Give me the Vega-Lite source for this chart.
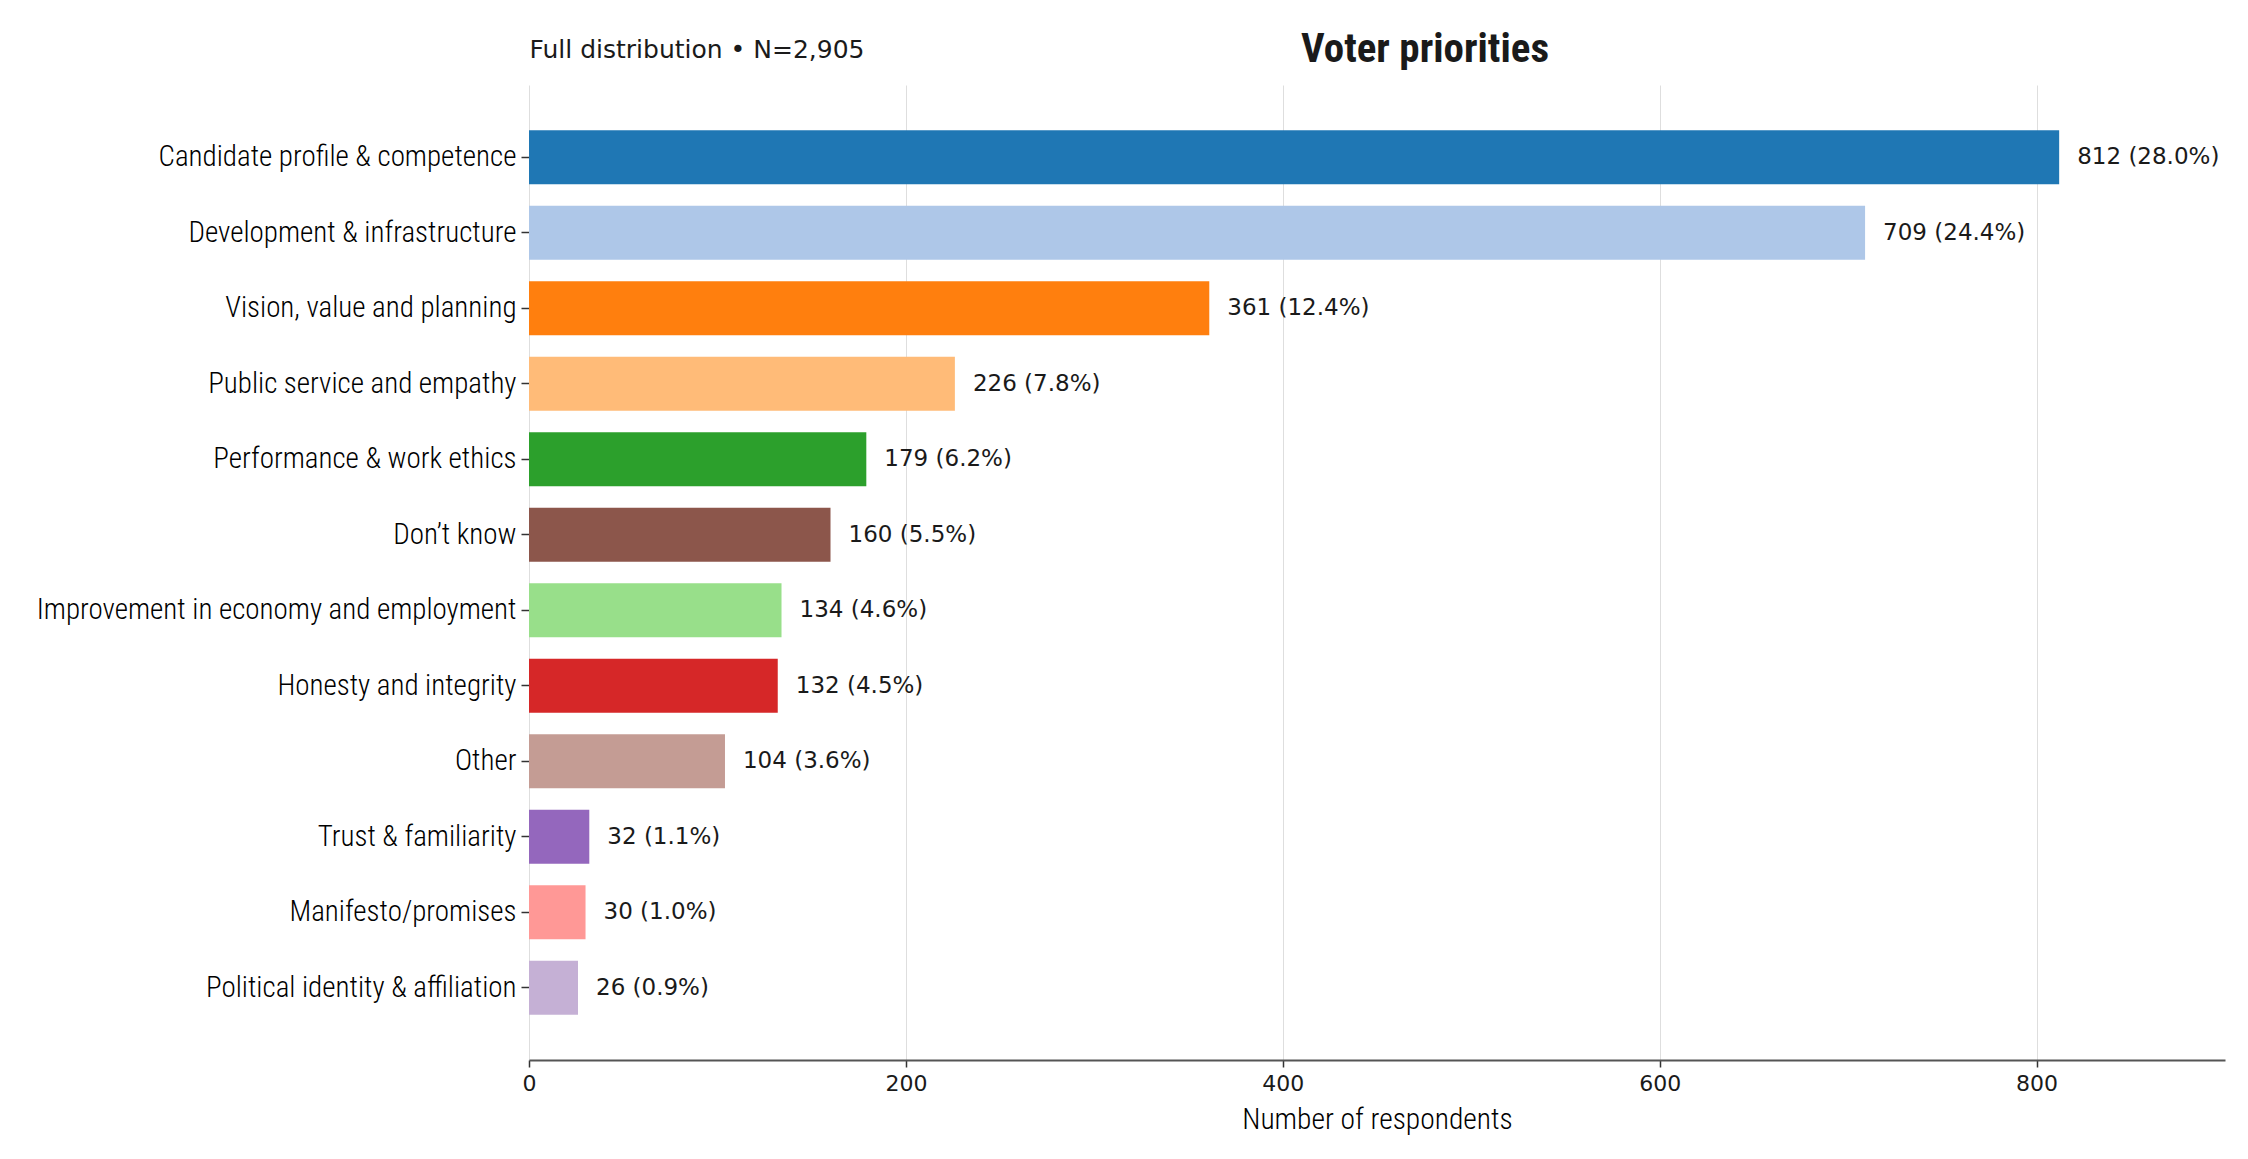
{
  "$schema": "https://vega.github.io/schema/vega-lite/v6.json",
  "width": 1696,
  "height": 975,
  "autosize": {"type": "none"},
  "padding": {"left": 529, "top": 85, "right": 23, "bottom": 99},
  "background": "white",
  "title": {
    "text": "Voter priorities",
    "anchor": "middle",
    "dx": 48,
    "offset": 0,
    "dy": 66,
    "baseline": "alphabetic",
    "font": "Roboto Condensed, Liberation Sans, sans-serif",
    "fontSize": 41,
    "fontWeight": "bold",
    "color": "#1a1a1a"
  },
  "data": {
    "values": [
      {"priority": "Candidate profile & competence", "count": 812, "pct": 28.0},
      {"priority": "Development & infrastructure", "count": 709, "pct": 24.4},
      {"priority": "Vision, value and planning", "count": 361, "pct": 12.4},
      {"priority": "Public service and empathy", "count": 226, "pct": 7.8},
      {"priority": "Performance & work ethics", "count": 179, "pct": 6.2},
      {"priority": "Don’t know", "count": 160, "pct": 5.5},
      {"priority": "Improvement in economy and employment", "count": 134, "pct": 4.6},
      {"priority": "Honesty and integrity", "count": 132, "pct": 4.5},
      {"priority": "Other", "count": 104, "pct": 3.6},
      {"priority": "Trust & familiarity", "count": 32, "pct": 1.1},
      {"priority": "Manifesto/promises", "count": 30, "pct": 1.0},
      {"priority": "Political identity & affiliation", "count": 26, "pct": 0.9}
    ]
  },
  "transform": [
    {"calculate": "format(datum.count, 'd') + ' (' + format(datum.pct, '.1f') + '%)'", "as": "label"}
  ],
  "encoding": {
    "y": {
      "field": "priority",
      "type": "nominal",
      "sort": null,
      "scale": {"paddingInner": 0.285, "paddingOuter": 0.6},
      "axis": {
        "title": null,
        "domain": false,
        "grid": false,
        "ticks": true,
        "tickSize": 8,
        "tickColor": "#333333",
        "tickWidth": 1.5,
        "labelPadding": 5,
        "labelFont": "Roboto Condensed, Liberation Sans, sans-serif",
        "labelFontSize": 29,
        "labelFontWeight": 300,
        "labelColor": "#000000",
        "labelLimit": 0
      }
    }
  },
  "layer": [
    {
      "mark": {"type": "bar"},
      "encoding": {
        "x": {
          "field": "count",
          "type": "quantitative",
          "scale": {"domain": [0, 900], "nice": false},
          "axis": {
            "orient": "bottom",
            "title": "Number of respondents",
            "titleFont": "Roboto Condensed, Liberation Sans, sans-serif",
            "titleFontSize": 29.5,
            "titleFontWeight": 300,
            "titleColor": "#000000",
            "titlePadding": 11,
            "values": [0, 200, 400, 600, 800],
            "format": "d",
            "labelFont": "DejaVu Sans",
            "labelFontSize": 22,
            "labelColor": "#1a1a1a",
            "labelPadding": 6,
            "labelFlush": false,
            "domainColor": "#555555",
            "domainWidth": 2,
            "tickColor": "#333333",
            "tickWidth": 1.5,
            "tickSize": 7,
            "grid": true,
            "gridColor": "#dedede",
            "gridWidth": 1
          }
        },
        "color": {
          "field": "priority",
          "type": "nominal",
          "legend": null,
          "scale": {
            "domain": [
              "Candidate profile & competence",
              "Development & infrastructure",
              "Vision, value and planning",
              "Public service and empathy",
              "Performance & work ethics",
              "Don’t know",
              "Improvement in economy and employment",
              "Honesty and integrity",
              "Other",
              "Trust & familiarity",
              "Manifesto/promises",
              "Political identity & affiliation"
            ],
            "range": [
              "#1f77b4", "#aec7e8", "#ff7f0e", "#ffbb78", "#2ca02c", "#8c564b",
              "#98df8a", "#d62728", "#c49c94", "#9467bd", "#ff9896", "#c5b0d5"
            ]
          }
        }
      }
    },
    {
      "mark": {
        "type": "text",
        "align": "left",
        "baseline": "middle",
        "dx": 18,
        "font": "DejaVu Sans",
        "fontSize": 23,
        "color": "#1a1a1a"
      },
      "encoding": {
        "x": {
          "field": "count",
          "type": "quantitative",
          "axis": {
            "orient": "top",
            "title": "Full distribution • N=2,905",
            "titleFont": "DejaVu Sans",
            "titleFontSize": 25,
            "titleFontWeight": "normal",
            "titleColor": "#1a1a1a",
            "titleAnchor": "start",
            "titleAlign": "left",
            "titleBaseline": "alphabetic",
            "titlePadding": 28,
            "labels": false,
            "ticks": false,
            "domain": false,
            "grid": false
          }
        },
        "text": {"field": "label"}
      }
    }
  ],
  "resolve": {"axis": {"x": "independent"}},
  "config": {"view": {"stroke": null}}
}
